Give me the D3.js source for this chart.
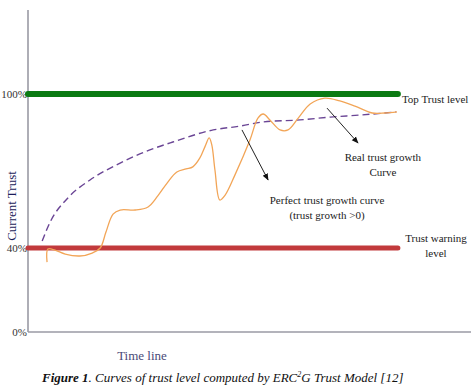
<!DOCTYPE html>
<html>
<head>
<meta charset="utf-8">
<script src="https://cdn.jsdelivr.net/npm/d3@7"></script>
<style>
  body { margin: 0; background: #fff; }
  text { font-family: "Liberation Serif", "DejaVu Serif", serif; }
</style>
</head>
<body>
<div id="chart"></div>
<script>
// data: time in 0..100, trust in %
const realT = [4.3, 4.5, 6.1, 8.4, 11.7, 14.5, 16.3, 17.6, 19.2, 20.8, 24.2, 27.1, 29.3, 31.4, 33.6, 35.7, 37.2, 38.8, 40.0, 40.9, 41.5, 42.2, 43.3, 44.5, 46.7, 50.1, 51.9, 53.1, 54.6, 56.9, 58.7, 61.0, 63.7, 67.0, 70.4, 73.8, 77.7, 80.6, 83.3];
const realV = [33.3, 39.5, 39.0, 37.1, 36.2, 37.6, 40.0, 46.2, 53.2, 54.8, 54.8, 56.0, 60.3, 65.3, 69.6, 70.8, 71.6, 75.1, 79.7, 82.9, 80.1, 70.4, 58.7, 60.6, 68.4, 82.1, 90.6, 92.2, 89.9, 86.0, 86.0, 90.6, 96.1, 98.4, 97.3, 95.3, 92.6, 92.6, 93.0];
const perfectT = [3.2, 5.0, 9.0, 14.0, 20.8, 27.5, 32.7, 41.8, 47.9, 53.0, 61.4, 68.2, 74.9, 83.1];
const perfectV = [42.7, 50.1, 59.5, 66.5, 73.1, 78.2, 81.3, 86.0, 87.5, 89.1, 89.9, 91.0, 91.8, 93.0];
const levelValues = [100, 40];
const levelEnd = 83.5;
const tickValues = [100, 40, 0];
const tickLabels = ["100%", "40%", "0%"];

const width = 474, height = 388;

const svg = d3.select("#chart")
    .append("svg")
    .attr("width", width)
    .attr("height", height);

// scales (the figure's y axis is not evenly spaced)
const x = d3.scaleLinear().domain([0, 100]).range([28, 471]);
const y = d3.scaleLinear().domain([0, 40, 100]).range([332, 248, 94]);

// arrow head
svg.append("defs").append("marker")
    .attr("id", "arrow")
    .attr("viewBox", "0 0 10 10")
    .attr("refX", 9).attr("refY", 5)
    .attr("markerWidth", 7).attr("markerHeight", 7)
    .attr("orient", "auto")
    .append("path")
    .attr("d", "M0,1 L10,5 L0,9 z")
    .attr("fill", "#111");

// axes
svg.append("line")
    .attr("x1", x(0)).attr("x2", x(0))
    .attr("y1", y(0)).attr("y2", y(132.7))
    .attr("stroke", "#9a9aa4").attr("stroke-width", 1.6);
svg.append("line")
    .attr("x1", x(0)).attr("x2", x(100))
    .attr("y1", y(0)).attr("y2", y(0))
    .attr("stroke", "#9a9aa4").attr("stroke-width", 1.6);

svg.selectAll(".tick")
    .data(tickValues)
    .join("text")
    .attr("class", "tick")
    .attr("x", x(0) - 1)
    .attr("y", d => y(d) + 4)
    .attr("text-anchor", "end")
    .attr("font-size", 11)
    .attr("fill", "#333")
    .text((d, i) => tickLabels[i]);

// level lines
const levelColors = ["#0b7a12", "#c23a3c"];
const levelWidth = [6, 5];
svg.selectAll(".level")
    .data(levelValues)
    .join("line")
    .attr("class", "level")
    .attr("x1", x(0)).attr("x2", x(levelEnd))
    .attr("y1", d => y(d)).attr("y2", d => y(d))
    .attr("stroke", (d, i) => levelColors[i])
    .attr("stroke-width", (d, i) => levelWidth[i])
    .attr("stroke-linecap", "round");

// perfect curve
const perfect = perfectT.map((t, i) => [t, perfectV[i]]);
svg.append("path")
    .datum(perfect)
    .attr("fill", "none")
    .attr("stroke", "#6a4595")
    .attr("stroke-width", 1.4)
    .attr("stroke-dasharray", "7,4")
    .attr("d", d3.line().x(d => x(d[0])).y(d => y(d[1])).curve(d3.curveMonotoneX));

// real curve
const real = realT.map((t, i) => [t, realV[i]]);
svg.append("path")
    .datum(real)
    .attr("fill", "none")
    .attr("stroke", "#f2a557")
    .attr("stroke-width", 1.3)
    .attr("d", d3.line().x(d => x(d[0])).y(d => y(d[1])).curve(d3.curveCatmullRom.alpha(0.5)));

// arrows
const arrows = [
    [[67.5, 94.5], [74.5, 80.9]],
    [[48.3, 86.0], [54.2, 66.5]]
];
svg.selectAll(".arrow")
    .data(arrows)
    .join("line")
    .attr("class", "arrow")
    .attr("x1", d => x(d[0][0])).attr("y1", d => y(d[0][1]))
    .attr("x2", d => x(d[1][0])).attr("y2", d => y(d[1][1]))
    .attr("stroke", "#222").attr("stroke-width", 1)
    .attr("marker-end", "url(#arrow)");

// annotations
const notes = [
    { t: 84.4, v: 96.5, anchor: "start", lines: ["Top Trust level"] },
    { t: 80.1, v: 74.0, anchor: "middle", lines: ["Real trust growth", "Curve"] },
    { t: 67.5, v: 57.3, anchor: "middle", lines: ["Perfect trust growth curve", "(trust growth >0)"] },
    { t: 92.1, v: 42.3, anchor: "middle", lines: ["Trust warning", "level"] }
];
notes.forEach(n => {
    const t = svg.append("text")
        .attr("x", x(n.t))
        .attr("y", y(n.v))
        .attr("text-anchor", n.anchor)
        .attr("font-size", 11)
        .attr("fill", "#222");
    n.lines.forEach((l, i) => {
        t.append("tspan")
            .attr("x", x(n.t))
            .attr("dy", i === 0 ? 0 : 15)
            .text(l);
    });
});

// axis titles
svg.append("text")
    .attr("x", 142).attr("y", 360)
    .attr("text-anchor", "middle")
    .attr("font-size", 13)
    .attr("fill", "#4a4a78")
    .text("Time line");

svg.append("text")
    .attr("transform", "translate(16,206) rotate(-90)")
    .attr("text-anchor", "middle")
    .attr("font-size", 13)
    .attr("fill", "#1c1c5a")
    .text("Current Trust");

// caption
const cap = svg.append("text")
    .attr("x", 42).attr("y", 382)
    .attr("font-size", 13)
    .attr("font-style", "italic")
    .attr("fill", "#111");
cap.append("tspan").attr("font-weight", "bold").text("Figure 1");
cap.append("tspan").text(". Curves of trust level computed by ERC");
cap.append("tspan").attr("font-size", 8).attr("dy", -5).text("2");
cap.append("tspan").attr("dy", 5).text("G Trust Model [12]");
</script>
</body>
</html>
